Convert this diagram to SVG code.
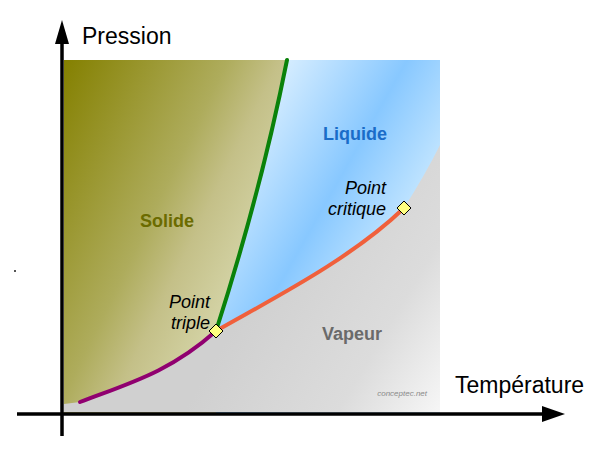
<svg xmlns="http://www.w3.org/2000/svg" width="593" height="457" viewBox="0 0 593 457">
<defs>
<linearGradient id="gSolid" gradientUnits="userSpaceOnUse" x1="64" y1="60" x2="300" y2="175">
<stop offset="0" stop-color="#848000"/>
<stop offset="0.56" stop-color="#aeac5c"/>
<stop offset="0.74" stop-color="#c4c088"/>
<stop offset="1" stop-color="#d6d6aa"/>
</linearGradient>
<linearGradient id="gLiquid" gradientUnits="userSpaceOnUse" x1="260" y1="100" x2="460" y2="214">
<stop offset="0" stop-color="#d8eeff"/>
<stop offset="0.47" stop-color="#88c8ff"/>
<stop offset="0.8" stop-color="#c0e4ff"/>
<stop offset="1" stop-color="#d0ecff"/>
</linearGradient>
<linearGradient id="gGas" gradientUnits="userSpaceOnUse" x1="250" y1="300" x2="440" y2="413">
<stop offset="0" stop-color="#d0d0d0"/>
<stop offset="0.6" stop-color="#dcdcdc"/>
<stop offset="1" stop-color="#f6f6f6"/>
</linearGradient>
<style>
.axis{fill:none;stroke:#000;stroke-width:3.5}
.head{fill:#000}
.curve{fill:none;stroke-width:4;stroke-linecap:round}
.pt{fill:#ffff80;stroke:#000;stroke-width:1}
.ax{font-family:"Liberation Sans",Arial,sans-serif;font-size:23px;fill:#000}
.phase{font-family:"Liberation Sans",Arial,sans-serif;font-size:18px;font-weight:bold}
.lbl{font-family:"Liberation Sans",Arial,sans-serif;font-size:18px;font-style:italic;fill:#000;text-anchor:end}
</style>
</defs>
<g id="regions">
<rect id="solide-zone" x="64" y="60" width="240" height="353" fill="url(#gSolid)"/>
<path id="liquide-zone" d="M287,60 H440 V413 H216 V331 Q261,191 287,60 Z" fill="url(#gLiquid)"/>
<path id="vapeur-zone" d="M64,404 L80,402 C130,383 170,372 216,331 C270,300 350,260 404,208 Q425,175 440,145 V412 H64 Z" fill="url(#gGas)"/>
</g>
<g id="connectors">
<path id="sublimation" class="curve" d="M80,402 C130,383 170,372 216,331" stroke="#900070"/>
<path id="fusion" class="curve" d="M216,331 Q261,191 287,60" stroke="#0a820a"/>
<path id="vaporisation" class="curve" d="M216,331 C270,300 350,260 404,208" stroke="#f0603c"/>
</g>
<g id="axes">
<line class="axis" x1="62" y1="436" x2="62" y2="40"/>
<polygon class="head" points="62,20 55,44 69,44"/>
<line class="axis" x1="17" y1="414" x2="546" y2="414"/>
<polygon class="head" points="565,414 542,406 542,422"/>
</g>
<g id="point-triple">
<polygon class="pt" points="216,324 223,331 216,338 209,331"/>
<text class="lbl" x="210" y="308">Point</text>
<text class="lbl" x="210" y="329">triple</text>
</g>
<g id="point-critique">
<polygon class="pt" points="404,201 411,208 404,215 397,208"/>
<text class="lbl" x="386" y="194">Point</text>
<text class="lbl" x="386" y="215">critique</text>
</g>
<g id="labels">
<text class="ax" x="82" y="44">Pression</text>
<text class="ax" x="455" y="393">Température</text>
<text class="phase" x="167" y="227" text-anchor="middle" fill="#6b6b00">Solide</text>
<text class="phase" x="355" y="140" text-anchor="middle" fill="#1a6cc8">Liquide</text>
<text class="phase" x="352" y="340" text-anchor="middle" fill="#6a6a6a">Vapeur</text>
<text x="427" y="396" text-anchor="end" font-family="Liberation Sans, Arial, sans-serif" font-size="8" font-style="italic" fill="#8a8a8a">conceptec.net</text>
<rect x="14" y="270" width="2" height="2" fill="#555"/>
</g>
</svg>
